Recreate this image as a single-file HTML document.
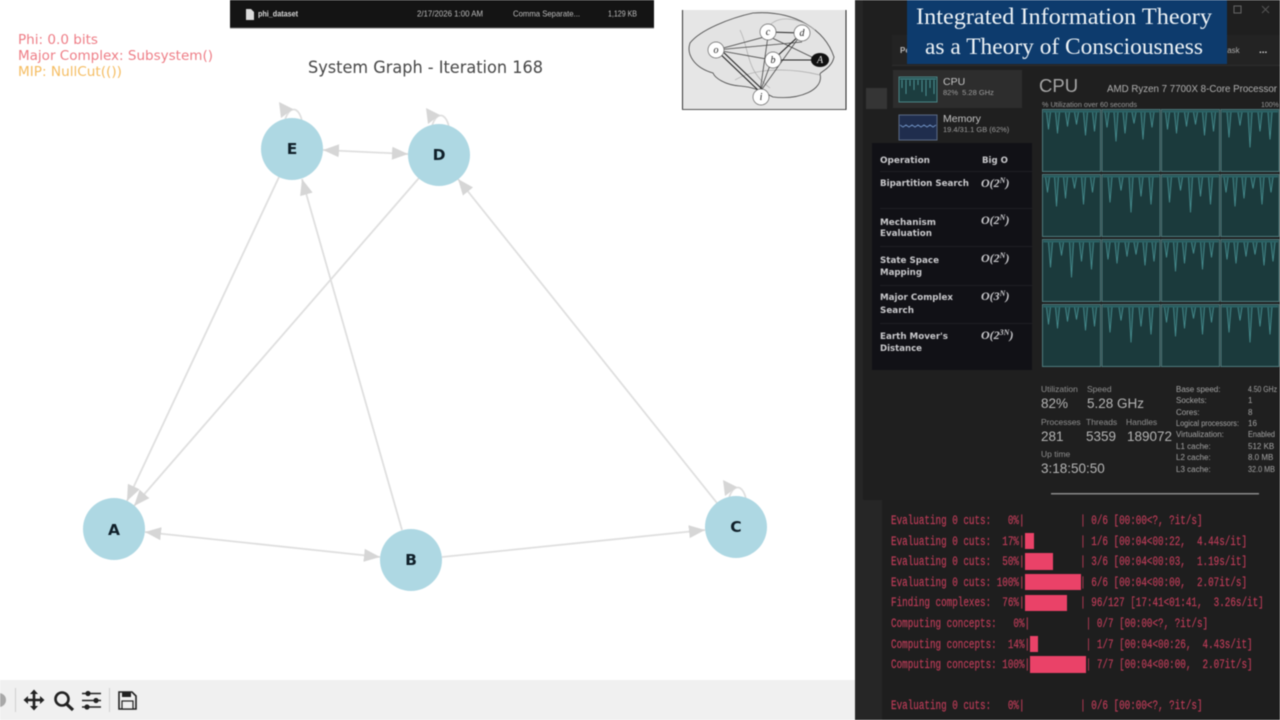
<!DOCTYPE html>
<html><head><meta charset="utf-8"><title>System Graph</title>
<style>
html,body{margin:0;padding:0;width:1280px;height:720px;overflow:hidden;background:#fff}
svg{display:block;filter:blur(.4px)}
text{white-space:pre}
.s{font-family:"Liberation Sans",sans-serif}
.d{font-family:"DejaVu Sans",sans-serif}
.m{font-family:"Liberation Mono",monospace;font-size:13px;fill:#bd3c58;stroke:#bd3c58;stroke-width:.2}
.t{font-family:"DejaVu Sans",sans-serif;font-weight:700;font-size:8.5px;fill:#c9c9cc}
.o{font-family:"Liberation Serif",serif;font-style:italic;font-weight:700;font-size:12px;fill:#c9c9cc}
.l{font-family:"Liberation Sans",sans-serif;font-size:8.5px;fill:#8f8f8f}
.v{font-family:"Liberation Sans",sans-serif;font-size:13.5px;fill:#b5b5b5}
.r{font-family:"Liberation Sans",sans-serif;font-size:8px;fill:#a5a5a5}
.e{stroke:#dfdfdf;stroke-width:1.8;fill:none}
.n{fill:#aed8e3}
.nt{font-family:"DejaVu Sans",sans-serif;font-weight:700;font-size:15.5px;fill:#10202a;text-anchor:middle}
</style></head><body>
<svg width="1280" height="720" viewBox="0 0 1280 720" xmlns="http://www.w3.org/2000/svg">
<defs>
<marker id="a" viewBox="0 0 16 13" refX="16" refY="6.5" markerUnits="userSpaceOnUse" markerWidth="16" markerHeight="13" orient="auto-start-reverse"><path d="M0,0L16,6.5L0,13Z" fill="#d6d6d6"/></marker>
<g id="loop"><path d="M285,120C287,113 291,108 296,110C299,112 301,116 302,121" fill="none" stroke="#dfdfdf" stroke-width="1.7"/><path d="M279,102L293,109L281,118Z" fill="#d6d6d6"/></g>
<g id="c1"><rect width="58" height="62" fill="#1b3a3c" stroke="#4f7c7e" stroke-width="1"/><path d="M1,1H57V3H1Z" fill="#2b6265"/><path d="M4,3L6,20L8,3M13,3L15,24L17,3M23,3L25,17L27,3M32,3L34,15L36,3M41,3L43,26L45,3M50,3L52,22L54,3" fill="#21494b" stroke="#468c8e" stroke-width=".9"/></g>
<g id="c2"><rect width="58" height="62" fill="#1b3a3c" stroke="#4f7c7e" stroke-width="1"/><path d="M1,1H57V3H1Z" fill="#2b6265"/><path d="M3,3L5,18L7,3M12,3L14,32L16,3M21,3L23,24L25,3M30,3L32,14L34,3M39,3L41,30L43,3M48,3L50,18L52,3" fill="#21494b" stroke="#468c8e" stroke-width=".9"/></g>
<g id="c3"><rect width="58" height="62" fill="#1b3a3c" stroke="#4f7c7e" stroke-width="1"/><path d="M1,1H57V3H1Z" fill="#2b6265"/><path d="M6,3L8,28L10,3M17,3L19,16L21,3M27,3L29,38L31,3M37,3L39,22L41,3M47,3L49,30L51,3" fill="#21494b" stroke="#468c8e" stroke-width=".9"/></g>
</defs>

<rect width="855" height="720" fill="#fff"/>
<rect x="0" y="680" width="855" height="40" fill="#f0f0f0"/>

<!-- dark file bar -->
<rect x="230" y="0" width="424" height="28" fill="#141414"/>
<rect x="230" y="27.5" width="424" height="1" fill="#777"/>
<path d="M246,9h5l3,3v8h-8z" fill="#dcdcdc"/>
<text x="258" y="16.5" class="s" font-size="8.5" font-weight="700" fill="#d8d8d8" textLength="40" lengthAdjust="spacingAndGlyphs">phi_dataset</text>
<text x="417" y="16.5" class="s" font-size="8.5" fill="#bdbdbd" textLength="66" lengthAdjust="spacingAndGlyphs">2/17/2026 1:00 AM</text>
<text x="513" y="16.5" class="s" font-size="8.5" fill="#bdbdbd" textLength="67" lengthAdjust="spacingAndGlyphs">Comma Separate...</text>
<text x="608" y="16.5" class="s" font-size="8.5" fill="#bdbdbd" textLength="29" lengthAdjust="spacingAndGlyphs">1,129 KB</text>

<!-- status text -->
<text x="18" y="44" class="d" font-size="13" fill="#ee7d86" textLength="80" lengthAdjust="spacingAndGlyphs">Phi: 0.0 bits</text>
<text x="18" y="60" class="d" font-size="13" fill="#ee7d86" textLength="195" lengthAdjust="spacingAndGlyphs">Major Complex: Subsystem()</text>
<text x="18" y="76" class="d" font-size="13" fill="#f5bd62" textLength="104" lengthAdjust="spacingAndGlyphs">MIP: NullCut(())</text>

<text x="308" y="73" class="d" font-size="16.5" fill="#474747" textLength="235" lengthAdjust="spacingAndGlyphs">System Graph - Iteration 168</text>

<!-- graph edges -->
<line class="e" x1="279" y1="177" x2="127" y2="501" marker-end="url(#a)"/>
<line class="e" x1="419" y1="178" x2="134" y2="506" marker-end="url(#a)"/>
<line class="e" x1="145" y1="532" x2="380" y2="557" marker-start="url(#a)" marker-end="url(#a)"/>
<line class="e" x1="402" y1="530" x2="302" y2="179" marker-end="url(#a)"/>
<line class="e" x1="442" y1="557" x2="705" y2="530" marker-end="url(#a)"/>
<line class="e" x1="717" y1="503" x2="458" y2="179" marker-end="url(#a)"/>
<line class="e" x1="323" y1="150" x2="408" y2="154" marker-start="url(#a)" marker-end="url(#a)"/>
<use href="#loop"/>
<use href="#loop" x="147" y="6"/>
<use href="#loop" x="444" y="378"/>

<circle class="n" cx="114" cy="529" r="31"/>
<circle class="n" cx="411" cy="560" r="31"/>
<circle class="n" cx="736" cy="527" r="31"/>
<circle class="n" cx="439" cy="155" r="31"/>
<circle class="n" cx="292" cy="149" r="31"/>
<text class="nt" x="114" y="535">A</text>
<text class="nt" x="411" y="565">B</text>
<text class="nt" x="736" y="532">C</text>
<text class="nt" x="439" y="160">D</text>
<text class="nt" x="292" y="154">E</text>

<!-- toolbar -->
<circle cx="-1" cy="700" r="7" fill="#a8a8a8"/>
<rect x="15" y="688" width="1" height="24" fill="#cfcfcf"/>
<rect x="109" y="688" width="1" height="24" fill="#cfcfcf"/>
<g stroke="#222" fill="#222">
<path d="M26,700H42M34,692V708" stroke-width="2.6" fill="none"/>
<path d="M23.5,700L28,696V704ZM44.5,700L40,696V704ZM34,689.5L30,694H38ZM34,710.5L30,706H38Z" stroke="none"/>
<circle cx="62" cy="699" r="6.5" fill="none" stroke-width="2.6"/>
<path d="M66.5,704L73,710" stroke-width="3.2" fill="none"/>
<path d="M82,693.5H101M82,700.5H101M82,707H101" stroke-width="1.4" fill="none"/>
<circle cx="88" cy="693.5" r="2.6" stroke="none"/><circle cx="96" cy="700.5" r="2.6" stroke="none"/><circle cx="87" cy="707" r="2.6" stroke="none"/>
<path d="M119,692H132L136,696V709H119Z" fill="none" stroke-width="1.6"/>
<rect x="122" y="692" width="9" height="5" stroke="none"/>
<rect x="122" y="701" width="11" height="8" fill="#f0f0f0" stroke-width="1.2"/>
</g>

<!-- brain image -->
<rect x="682" y="10" width="164" height="100" fill="#e6e6e6"/>
<rect x="682" y="10" width="1" height="100" fill="#333"/>
<rect x="845.5" y="10" width="1" height="100" fill="#222"/>
<rect x="682" y="109" width="164" height="1" fill="#555"/>
<path d="M690,43C700,30 730,18 753,13C795,10 825,30 834,57C832,68 820,72 820,74C824,90 800,100 773,97C760,90 752,87 740,86C725,85 715,78 713,73C695,68 686,55 690,43Z" fill="#e3e3e3" stroke="#444" stroke-width=".8"/>
<g fill="none" stroke="#aaa" stroke-width=".7"><path d="M735,80C760,65 800,70 820,75M770,25C780,15 800,18 815,30M740,30C750,50 745,70 770,88"/></g>
<g fill="none" stroke="#444" stroke-width=".8">
<path d="M716,50L768,36M716,50L772,60M716,50L802,42M768,36L818,60M768,36L760,92M802,33L760,92M772,60L760,92"/>
</g>
<g fill="none" stroke="#222" stroke-width="1.1">
<path d="M768,32L802,33M802,33L773,60M773,60L818,60M716,50L760,92M719,48L763,90"/>
</g>
<g fill="#fff" stroke="#666" stroke-width=".7">
<circle cx="716" cy="50" r="8"/><circle cx="768" cy="32" r="8"/><circle cx="802" cy="33" r="8"/><circle cx="773" cy="60" r="8"/><circle cx="761" cy="97" r="8"/>
</g>
<ellipse cx="820" cy="60" rx="9" ry="7" fill="#111"/>
<g font-family="Liberation Serif,serif" font-style="italic" font-size="10" text-anchor="middle">
<text x="716" y="53" fill="#222">o</text><text x="768" y="35" fill="#222">c</text><text x="802" y="36" fill="#222">d</text><text x="773" y="63" fill="#222">b</text><text x="761" y="100" fill="#222">i</text><text x="820" y="63" fill="#eee">A</text>
</g>

<!-- right panel -->
<rect x="855" y="0" width="425" height="720" fill="#1f1f1f"/>
<rect x="855" y="0" width="8" height="720" fill="#262626"/>
<rect x="892" y="35" width="388" height="30" fill="#232323"/>
<rect x="892" y="65" width="388" height="1" fill="#2e2e2e"/>
<rect x="866" y="88" width="21" height="21" fill="#353535"/>
<text x="900" y="53" class="s" font-size="8" font-weight="700" fill="#bbb">Pe</text>
<text x="1225" y="53" class="s" font-size="8" fill="#aaa">task</text>
<text x="1259" y="53" class="s" font-size="10" font-weight="700" fill="#ccc">...</text>
<rect x="1234" y="6" width="7" height="7" fill="none" stroke="#666"/>
<path d="M1262,6L1269,13M1269,6L1262,13" stroke="#555"/>
<rect x="893" y="70" width="129" height="38" fill="#2d2d2d"/>
<rect x="899" y="77" width="38" height="25" fill="#1c3d3f" stroke="#4b8587"/>
<path d="M902,80V88M906,80V94M910,80V86M914,80V90M918,80V85M922,80V92M926,80V96M930,80V88M934,80V94" fill="none" stroke="#4b9092"/>
<path d="M900,79H936" stroke="#4b9092"/>
<text x="943" y="85" class="s" font-size="10.5" fill="#c4c4c4">CPU</text>
<text x="943" y="95" class="s" font-size="7.5" fill="#9d9d9d">82%  5.28 GHz</text>
<rect x="899" y="115" width="38" height="25" fill="#1f2d4d" stroke="#5a6a85"/>
<path d="M900,125l3,2 3,-2 3,2 3,-2 3,2 3,-2 3,2 3,-2 3,2 3,-2 3,2 3,-2" fill="none" stroke="#6d8fc0"/>
<text x="943" y="122" class="s" font-size="10.5" fill="#c4c4c4">Memory</text>
<text x="943" y="132" class="s" font-size="7.5" fill="#9d9d9d">19.4/31.1 GB (62%)</text>

<text x="1039" y="92" class="s" font-size="18.5" fill="#a6a6a6">CPU</text>
<text x="1107" y="92" class="s" font-size="10.5" fill="#b0b0b0" textLength="170" lengthAdjust="spacingAndGlyphs">AMD Ryzen 7 7700X 8-Core Processor</text>
<text x="1042" y="107" class="s" font-size="7" fill="#9a9a9a" textLength="95" lengthAdjust="spacingAndGlyphs">% Utilization over 60 seconds</text>
<text x="1261" y="107" class="s" font-size="7" fill="#9a9a9a">100%</text>

<use href="#c1" x="1042.5" y="109.5"/><use href="#c2" x="1102" y="109.5"/><use href="#c1" x="1161.5" y="109.5"/><use href="#c3" x="1221" y="109.5"/>
<use href="#c2" x="1042.5" y="174.5"/><use href="#c3" x="1102" y="174.5"/><use href="#c3" x="1161.5" y="174.5"/><use href="#c2" x="1221" y="174.5"/>
<use href="#c3" x="1042.5" y="239.5"/><use href="#c1" x="1102" y="239.5"/><use href="#c2" x="1161.5" y="239.5"/><use href="#c1" x="1221" y="239.5"/>
<use href="#c1" x="1042.5" y="304.5"/><use href="#c3" x="1102" y="304.5"/><use href="#c2" x="1161.5" y="304.5"/><use href="#c3" x="1221" y="304.5"/>

<!-- Big O table -->
<rect x="872" y="143" width="160" height="227" fill="#111116"/>
<g fill="#1e1e24"><rect x="880" y="171" width="152" height="1"/><rect x="880" y="208" width="152" height="1"/><rect x="880" y="246" width="152" height="1"/><rect x="880" y="285" width="152" height="1"/><rect x="880" y="323" width="152" height="1"/></g>
<text class="t" x="880" y="163" textLength="50" lengthAdjust="spacingAndGlyphs">Operation</text>
<text class="t" x="982" y="163" textLength="26" lengthAdjust="spacingAndGlyphs">Big O</text>
<text class="t" x="880" y="186" textLength="89" lengthAdjust="spacingAndGlyphs">Bipartition Search</text>
<text class="t" x="880" y="225" textLength="56" lengthAdjust="spacingAndGlyphs">Mechanism</text>
<text class="t" x="880" y="236" textLength="52" lengthAdjust="spacingAndGlyphs">Evaluation</text>
<text class="t" x="880" y="263" textLength="59" lengthAdjust="spacingAndGlyphs">State Space</text>
<text class="t" x="880" y="275" textLength="42" lengthAdjust="spacingAndGlyphs">Mapping</text>
<text class="t" x="880" y="300" textLength="73" lengthAdjust="spacingAndGlyphs">Major Complex</text>
<text class="t" x="880" y="313" textLength="34" lengthAdjust="spacingAndGlyphs">Search</text>
<text class="t" x="880" y="339" textLength="68" lengthAdjust="spacingAndGlyphs">Earth Mover's</text>
<text class="t" x="880" y="351" textLength="42" lengthAdjust="spacingAndGlyphs">Distance</text>
<text class="o" x="981" y="187">O(2<tspan font-size="8" dy="-4">N</tspan><tspan dy="4">)</tspan></text>
<text class="o" x="981" y="224">O(2<tspan font-size="8" dy="-4">N</tspan><tspan dy="4">)</tspan></text>
<text class="o" x="981" y="262">O(2<tspan font-size="8" dy="-4">N</tspan><tspan dy="4">)</tspan></text>
<text class="o" x="981" y="300">O(3<tspan font-size="8" dy="-4">N</tspan><tspan dy="4">)</tspan></text>
<text class="o" x="981" y="339">O(2<tspan font-size="8" dy="-4">3N</tspan><tspan dy="4">)</tspan></text>

<!-- stats -->
<text class="l" x="1041" y="392">Utilization</text><text class="l" x="1087" y="392">Speed</text>
<text class="v" x="1041" y="408">82%</text><text class="v" x="1087" y="408">5.28 GHz</text>
<text class="l" x="1041" y="425">Processes</text><text class="l" x="1086" y="425">Threads</text><text class="l" x="1126" y="425">Handles</text>
<text class="v" x="1041" y="441">281</text><text class="v" x="1086" y="441">5359</text><text class="v" x="1127" y="441">189072</text>
<text class="l" x="1041" y="457">Up time</text>
<text class="v" x="1041" y="473">3:18:50:50</text>
<text class="r" x="1176" y="392">Base speed:</text><text class="r" x="1248" y="392" textLength="29" lengthAdjust="spacingAndGlyphs">4.50 GHz</text>
<text class="r" x="1176" y="403">Sockets:</text><text class="r" x="1248" y="403">1</text>
<text class="r" x="1176" y="415">Cores:</text><text class="r" x="1248" y="415">8</text>
<text class="r" x="1176" y="426" textLength="63" lengthAdjust="spacingAndGlyphs">Logical processors:</text><text class="r" x="1248" y="426">16</text>
<text class="r" x="1176" y="437">Virtualization:</text><text class="r" x="1248" y="437" textLength="27" lengthAdjust="spacingAndGlyphs">Enabled</text>
<text class="r" x="1176" y="449">L1 cache:</text><text class="r" x="1248" y="449">512 KB</text>
<text class="r" x="1176" y="460">L2 cache:</text><text class="r" x="1248" y="460">8.0 MB</text>
<text class="r" x="1176" y="472">L3 cache:</text><text class="r" x="1248" y="472" textLength="27" lengthAdjust="spacingAndGlyphs">32.0 MB</text>
<rect x="1051" y="493" width="208" height="1.5" fill="#8a8a8a"/>

<!-- terminal -->
<rect x="855" y="500" width="27" height="220" fill="#262626"/>
<rect x="882" y="500" width="398" height="220" fill="#1e1e1e"/>
<g fill="#ea4268">
<rect x="1025" y="533" width="9" height="16"/>
<rect x="1025" y="553" width="28" height="17"/>
<rect x="1025" y="574" width="56" height="16"/>
<rect x="1025" y="595" width="42" height="16"/>
<rect x="1030" y="636" width="8" height="16"/>
<rect x="1030" y="656" width="56" height="17"/>
</g>
<g transform="translate(891,0) scale(.714,1)">
<text class="m" y="524">Evaluating 0 cuts:   0%|          | 0/6 [00:00&lt;?, ?it/s]</text>
<text class="m" y="545">Evaluating 0 cuts:  17%|          | 1/6 [00:04&lt;00:22,  4.44s/it]</text>
<text class="m" y="565">Evaluating 0 cuts:  50%|          | 3/6 [00:04&lt;00:03,  1.19s/it]</text>
<text class="m" y="586">Evaluating 0 cuts: 100%|          | 6/6 [00:04&lt;00:00,  2.07it/s]</text>
<text class="m" y="606">Finding complexes:  76%|          | 96/127 [17:41&lt;01:41,  3.26s/it]</text>
<text class="m" y="627">Computing concepts:   0%|          | 0/7 [00:00&lt;?, ?it/s]</text>
<text class="m" y="648">Computing concepts:  14%|          | 1/7 [00:04&lt;00:26,  4.43s/it]</text>
<text class="m" y="668">Computing concepts: 100%|          | 7/7 [00:04&lt;00:00,  2.07it/s]</text>
<text class="m" y="709">Evaluating 0 cuts:   0%|          | 0/6 [00:00&lt;?, ?it/s]</text>
</g>

<!-- banner -->
<rect x="907" y="0" width="320" height="64" fill="#0d3b6d"/>
<text x="1064" y="24" text-anchor="middle" font-family="Liberation Serif,serif" font-size="23" fill="#eef3f6" textLength="296" lengthAdjust="spacingAndGlyphs">Integrated Information Theory</text>
<text x="1064" y="54" text-anchor="middle" font-family="Liberation Serif,serif" font-size="23" fill="#eef3f6" textLength="278" lengthAdjust="spacingAndGlyphs">as a Theory of Consciousness</text>
</svg>
</body></html>
